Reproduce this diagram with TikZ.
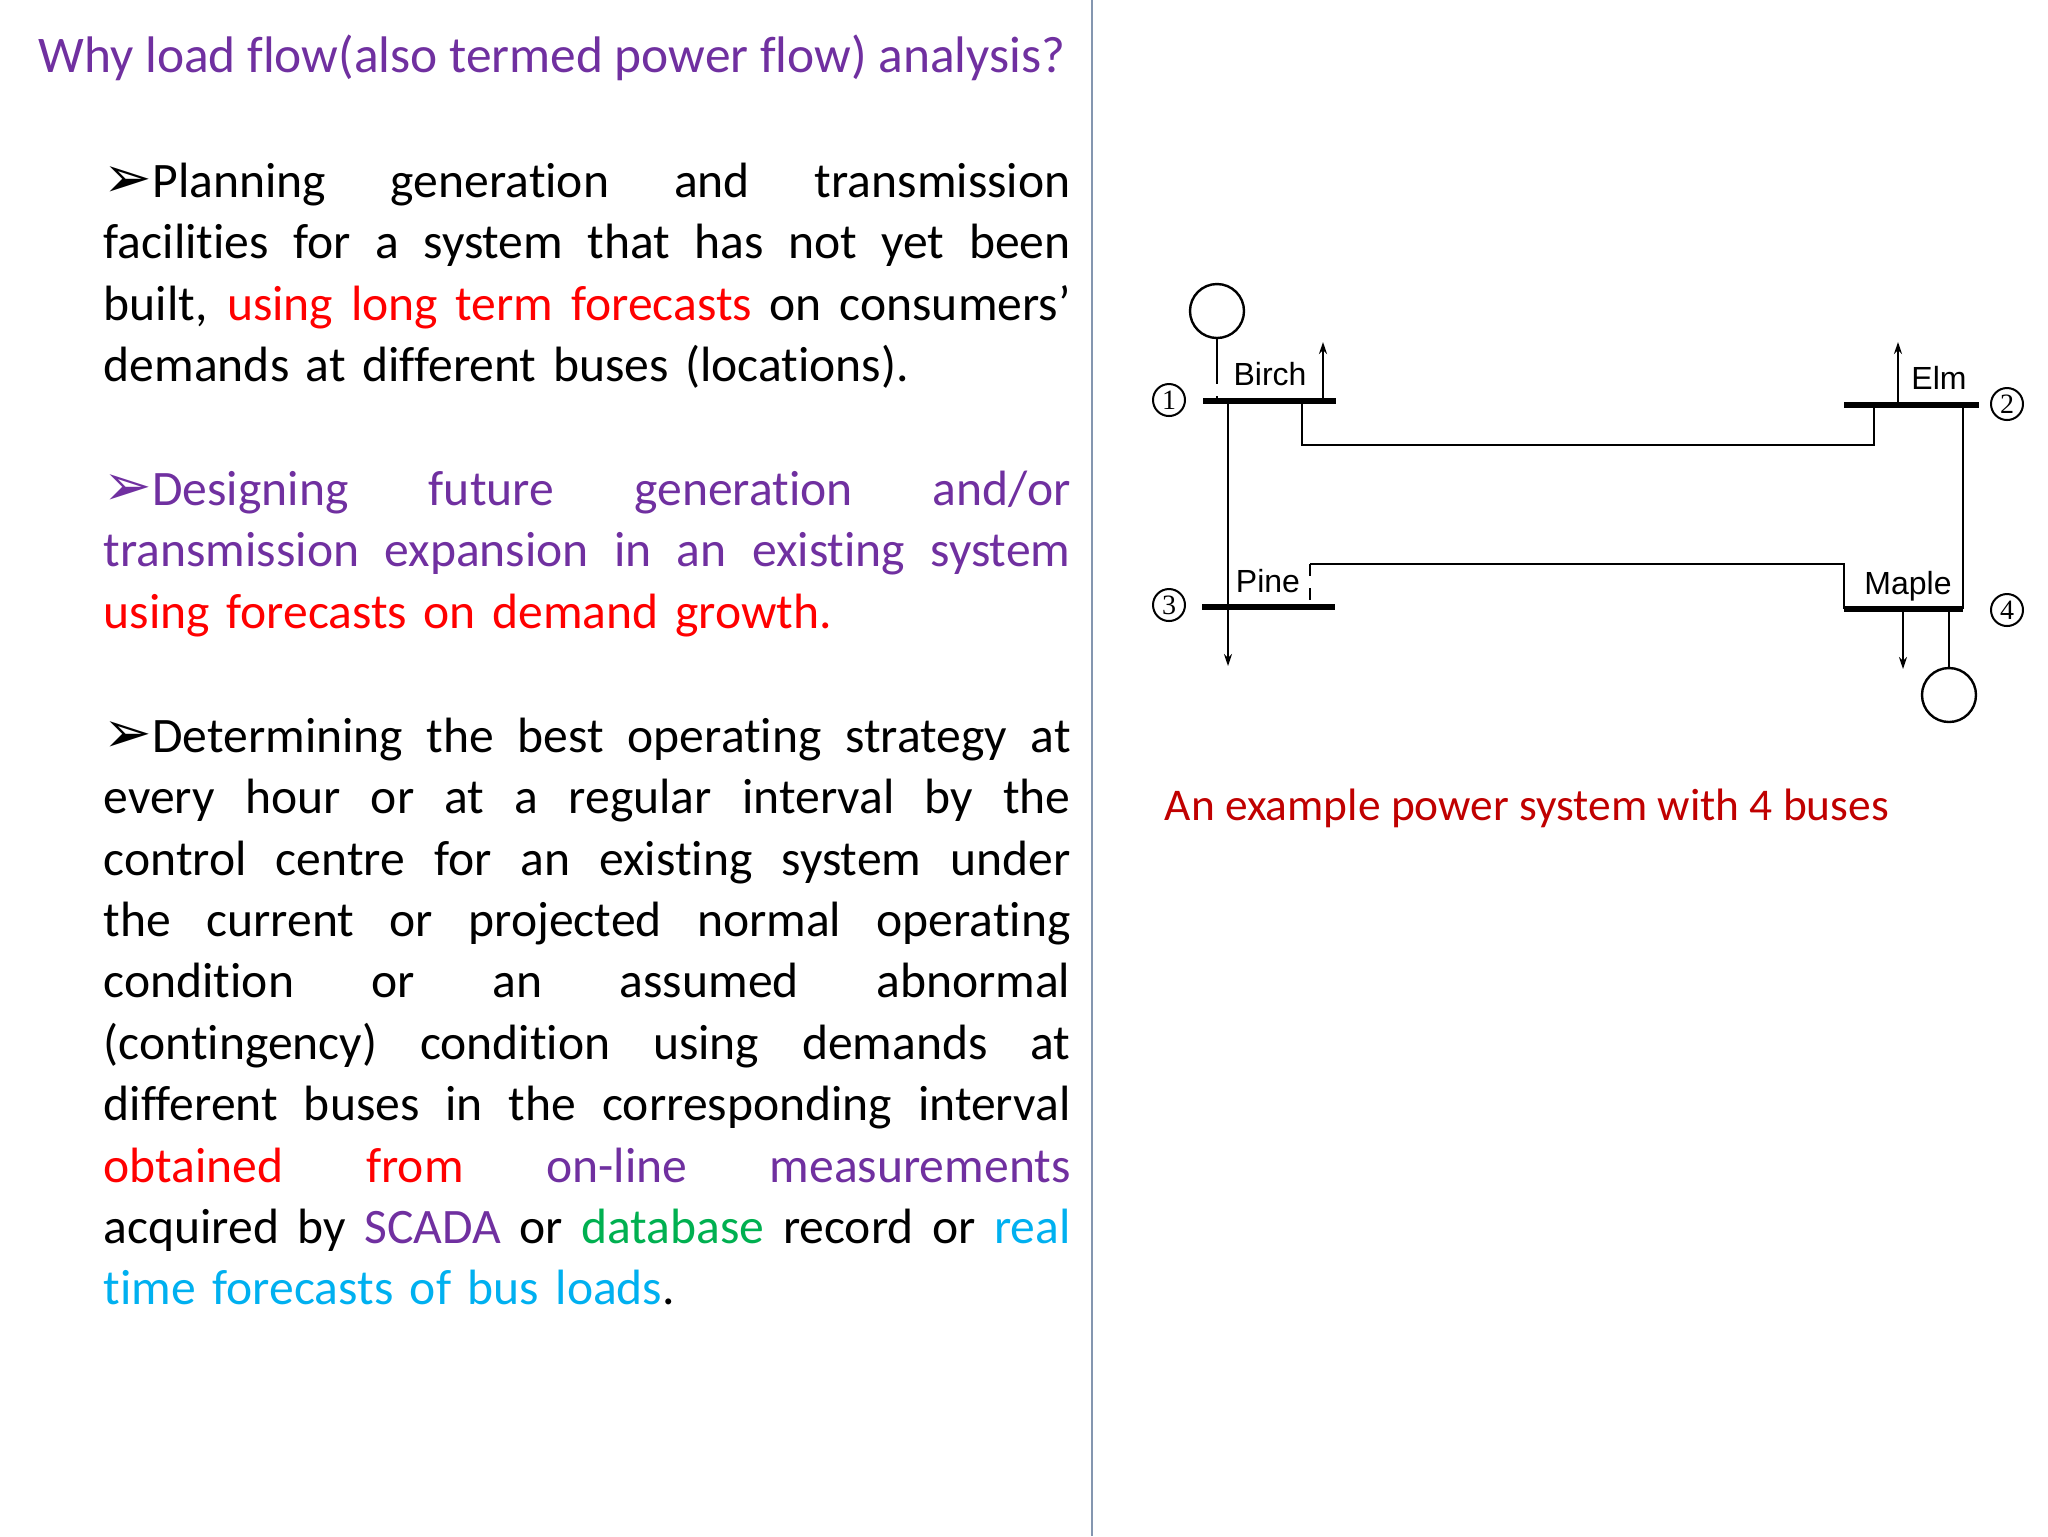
\documentclass[tikz,border=0pt]{standalone}
\usepackage{fontspec}
\usetikzlibrary{arrows.meta}
\setmainfont{Carlito}[RawFeature={-liga}]
\newfontfamily\dejavu{DejaVu Sans}
\newfontfamily\arial{Liberation Sans}
\newfontfamily\serifnum{Liberation Serif}
\definecolor{ttlpurple}{HTML}{7030A0}
\definecolor{myred}{HTML}{FF0000}
\definecolor{mygreen}{HTML}{00B050}
\definecolor{mycyan}{HTML}{00B0F0}
\definecolor{capred}{HTML}{C00000}
\definecolor{divider}{HTML}{8496B0}
\newlength{\tw}\setlength{\tw}{241.7pt}
\newcommand{\jl}[1]{\makebox[\tw][s]{\spaceskip=.22em plus 1fil\relax #1}\\}
\newcommand{\bul}{{\dejavu\fontsize{14.5}{14}\selectfont\char"27A2}}
\begin{document}
\begin{tikzpicture}[x=0.25pt,y=-0.25pt,
  body/.style={anchor=north west,inner sep=0pt,text width=\tw,align=left,font=\fontsize{12.4}{15.35}\selectfont},
  bus/.style={line width=1.3pt},
  wire/.style={line width=0.6pt},
  gen/.style={draw,circle,minimum size=13.5pt,inner sep=0pt,line width=0.6pt},
  busnum/.style={draw,circle,minimum size=8pt,inner sep=0pt,line width=0.5pt,font=\serifnum\fontsize{7}{7}\selectfont},
  blabel/.style={font=\arial\fontsize{8}{8}\selectfont,inner sep=0pt},
  ld/.style={-{Stealth[length=3pt,width=2pt]},wire}]
\useasboundingbox (0,0) rectangle (2048,1536);
\fill[white] (0,0) rectangle (2048,1536);
\draw[divider,line width=0.5pt] (1092,0) -- (1092,1536);
\node[anchor=west,inner sep=0pt,text=ttlpurple,font=\fontsize{12.85}{15}\selectfont] (title) at (38,58) {Why load flow(also termed power flow) analysis?};
\node[body] (p1) at (103,162) {\jl{\bul Planning generation and transmission}\jl{facilities for a system that has not yet been}\jl{built, \textcolor{myred}{using long term forecasts} on consumers’}demands at different buses (locations).};
\node[body,text=ttlpurple] (p2) at (103,470) {\jl{\bul Designing future generation and/or}\jl{transmission expansion in an existing system}\textcolor{myred}{using forecasts on demand growth.}};
\node[body] (p3) at (103,717) {\jl{\bul Determining the best operating strategy at}\jl{every hour or at a regular interval by the}\jl{control centre for an existing system under}\jl{the current or projected normal operating}\jl{condition or an assumed abnormal}\jl{(contingency) condition using demands at}\jl{different buses in the corresponding interval}\jl{\textcolor{myred}{obtained from} \textcolor{ttlpurple}{on-line measurements}}\jl{acquired by \textcolor{ttlpurple}{SCADA} or \textcolor{mygreen}{database} record or \textcolor{mycyan}{real}}\textcolor{mycyan}{time forecasts of bus loads}.};
\node[anchor=west,inner sep=0pt,text=capred,font=\fontsize{11.35}{14}\selectfont] (cap) at (1164,808) {An example power system with 4 buses};
% buses
\coordinate (b1l) at (1203,401); \coordinate (b1r) at (1336,401);
\coordinate (b2l) at (1844,405); \coordinate (b2r) at (1979,405);
\coordinate (b3l) at (1202,607); \coordinate (b3r) at (1335,607);
\coordinate (b4l) at (1844,609); \coordinate (b4r) at (1963,609);
\draw[bus] (b1l) -- (b1r);
\draw[bus] (b2l) -- (b2r);
\draw[bus] (b3l) -- (b3r);
\draw[bus] (b4l) -- (b4r);
\node[blabel] (birch) at (1270,374) {Birch};
\node[blabel] (elm) at (1939,378) {Elm};
\node[blabel] (pine) at (1268,581) {Pine};
\node[blabel] (maple) at (1908,586) {Maple};
\node[busnum] (n1) at (1169,400) {1};
\node[busnum] (n2) at (2007,404) {2};
\node[busnum] (n3) at (1169,605) {3};
\node[busnum] (n4) at (2007,610) {4};
\node[gen] (g1) at (1217,311) {};
\node[gen] (g2) at (1949,695) {};
% generator connections
\draw[wire] (g1.south) -- (1217,372);
\draw[wire,dashed] (1217,372) -- (1217,401);
\draw[wire] (1949,609) -- (g2.north);
% loads
\draw[ld] (1323,401) -- (1323,342);
\draw[ld] (1898,405) -- (1898,342);
\draw[ld] (1228,401) -- (1228,666);
\draw[ld] (1903,609) -- (1903,669);
% lines
\draw[wire] (1302,401) -- (1302,445) -- (1874,445) -- (1874,405);
\draw[wire] (1963,405) -- (1963,609);
\draw[wire] (1844,609) -- (1844,564) -- (1310,564);
\draw[wire,dashed] (1310,564) -- (1310,607);
\end{tikzpicture}
\end{document}
